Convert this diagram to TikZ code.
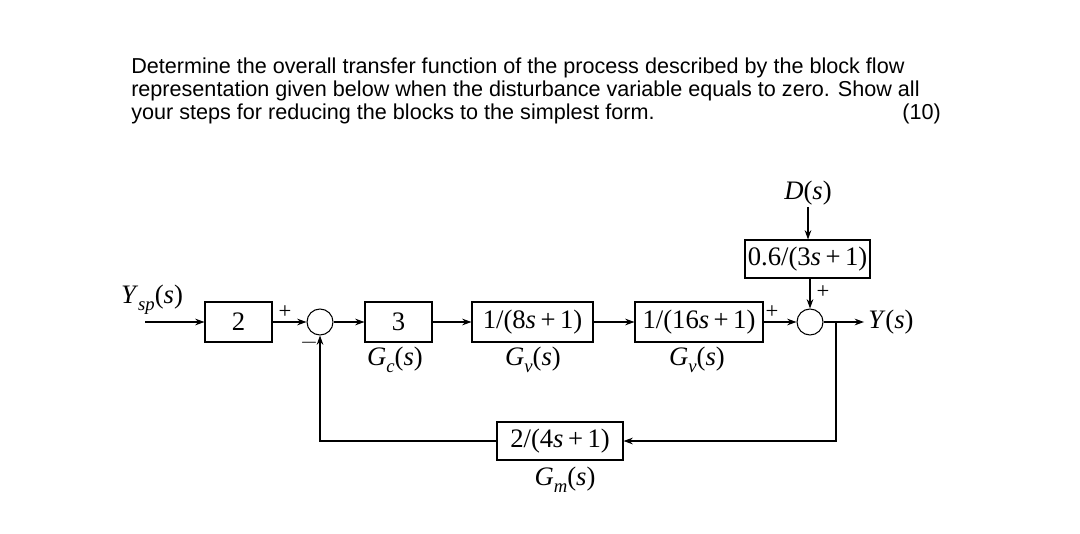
\documentclass[tikz,border=0pt]{standalone}
\usepackage{fontspec}
\setmainfont{Liberation Serif}
\newfontfamily\arial{Liberation Sans}
\usetikzlibrary{arrows.meta}
\newcommand{\sbi}[1]{\raisebox{-0.25em}{\fontsize{14}{14}\selectfont\textit{#1}}}
\begin{document}
\begin{tikzpicture}[x=0.75pt,y=-0.75pt,
  blk/.style={draw,line width=0.8pt,inner sep=0pt,font=\fontsize{20}{20}\selectfont},
  lbl/.style={font=\fontsize{20}{20}\selectfont,inner sep=0pt},
  sig/.style={font=\fontsize{17}{17}\selectfont,inner sep=0pt},
  sumc/.style={draw,circle,line width=0.8pt,minimum size=26*0.75pt,inner sep=0pt},
  ar/.style={-{Stealth[length=7pt,width=5pt]},line width=0.8pt},
  ln/.style={line width=0.8pt}]
\useasboundingbox (0,0) rectangle (1080,534);
\node[anchor=west,align=left,inner sep=0pt,font=\arial\fontsize{16.2}{17.2}\selectfont] (txt) at (131,91)
{Determine the overall transfer function of the process described by the block flow\\
representation given below when the disturbance variable equals to zero. Show all\\
your steps for reducing the blocks to the simplest form.};
\node[anchor=east,inner sep=0pt,font=\arial\fontsize{16.2}{17}\selectfont] (ten) at (941,114) {(10)};

\node[lbl] (ysp) at (152,300) {\textit{Y}\sbi{sp}(\textit{s})};
\coordinate (in) at (145,322);
\node[blk,minimum width=67*0.75pt,minimum height=40*0.75pt] (b2) at (238.5,322) {2};
\node[sumc] (s1) at (320,322) {};
\node[blk,minimum width=67*0.75pt,minimum height=40*0.75pt] (b3) at (398.5,322) {3};
\node[blk,minimum width=121*0.75pt,minimum height=40*0.75pt] (b8) at (532.5,322) {1/(8\textit{s}\,+\,1)};
\node[blk,minimum width=128*0.75pt,minimum height=40*0.75pt] (b16) at (699,322) {1/(16\textit{s}\,+\,1)};
\node[sumc] (s2) at (810,322) {};
\node[blk,minimum width=125*0.75pt,minimum height=38*0.75pt] (bd) at (807.5,259) {0.6/(3\textit{s}\,+\,1)};
\node[lbl] (ds) at (808,193) {\textit{D}(\textit{s})};
\coordinate (dtop) at (808,207);
\node[lbl,anchor=west] (ys) at (868,322) {\textit{Y}(\textit{s})};
\node[blk,minimum width=126*0.75pt,minimum height=38*0.75pt] (bm) at (560,441) {2/(4\textit{s}\,+\,1)};
\node[lbl] (gc) at (395,360) {\textit{G}\sbi{c}(\textit{s})};
\node[lbl] (gv1) at (533,360) {\textit{G}\sbi{v}(\textit{s})};
\node[lbl] (gv2) at (697,360) {\textit{G}\sbi{v}(\textit{s})};
\node[lbl] (gm) at (565,480) {\textit{G}\sbi{m}(\textit{s})};
\node[sig] (p1) at (285,312) {+};
\node[sig] (m1) at (309,343) {$-$};
\node[sig] (p2) at (772,312) {+};
\node[sig] (p3) at (823,292) {+};
\coordinate (tap) at (836,322);
\coordinate (fbr) at (836,441);
\coordinate (fbl) at (320,441);

\draw[ar] (in) -- (b2);
\draw[ar] (b2) -- (s1);
\draw[ar] (s1) -- (b3);
\draw[ar] (b3) -- (b8);
\draw[ar] (b8) -- (b16);
\draw[ar] (b16) -- (s2);
\draw[ar,shorten >=3pt] (s2) -- (ys.west);
\draw[ar] (dtop) -- (bd.north -| dtop);
\draw[ar] (bd.south -| s2) -- (s2);
\draw[ar] (tap) -- (fbr) -- (bm);
\draw[ar] (bm) -- (fbl) -- (s1);
\end{tikzpicture}
\end{document}
